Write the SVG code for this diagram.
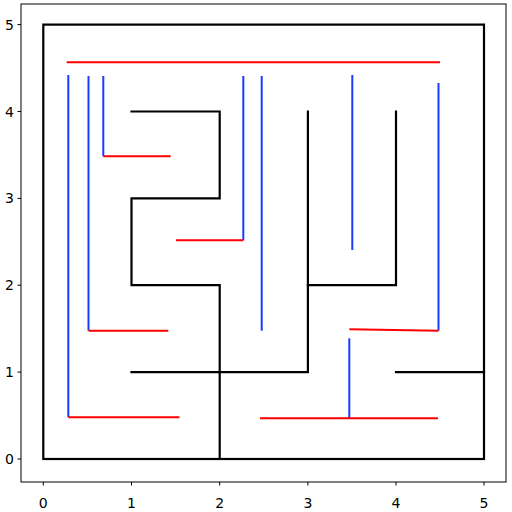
<svg xmlns="http://www.w3.org/2000/svg" width="512" height="512" viewBox="0 0 512 512">
<style>
.frame{fill:none;stroke:#000;stroke-width:1}
.tick{stroke:#000;stroke-width:1}
.lbl{font-family:"DejaVu Sans",sans-serif;font-size:14px;fill:#000}
.wall{fill:none;stroke:#000;stroke-width:2.2;stroke-linecap:square;stroke-linejoin:miter}
.b{fill:none;stroke:#1a3cff;stroke-width:2}
.r{fill:none;stroke:#ff0000;stroke-width:2}
</style>
<rect width="512" height="512" fill="#fff"/>
<g id="axes">
<rect class="frame" x="21" y="4" width="485" height="478"/>
<g class="tick">
<line x1="43.3" y1="482" x2="43.3" y2="485.5"/>
<line x1="131.5" y1="482" x2="131.5" y2="485.5"/>
<line x1="219.7" y1="482" x2="219.7" y2="485.5"/>
<line x1="307.9" y1="482" x2="307.9" y2="485.5"/>
<line x1="396" y1="482" x2="396" y2="485.5"/>
<line x1="484" y1="482" x2="484" y2="485.5"/>
<line x1="17.5" y1="459" x2="21" y2="459"/>
<line x1="17.5" y1="372.1" x2="21" y2="372.1"/>
<line x1="17.5" y1="285.2" x2="21" y2="285.2"/>
<line x1="17.5" y1="198.4" x2="21" y2="198.4"/>
<line x1="17.5" y1="111.5" x2="21" y2="111.5"/>
<line x1="17.5" y1="24.6" x2="21" y2="24.6"/>
</g>
<g class="lbl" text-anchor="middle">
<text x="43.3" y="508">0</text>
<text x="131.5" y="508">1</text>
<text x="219.7" y="508">2</text>
<text x="307.9" y="508">3</text>
<text x="396" y="508">4</text>
<text x="484" y="508">5</text>
</g>
<g class="lbl" text-anchor="end">
<text x="14" y="464">0</text>
<text x="14" y="377.1">1</text>
<text x="14" y="290.2">2</text>
<text x="14" y="203.4">3</text>
<text x="14" y="116.5">4</text>
<text x="14" y="29.6">5</text>
</g>
</g>
<g id="walls">
<rect class="wall" x="43.3" y="24.6" width="440.7" height="434.4"/>
<polyline class="wall" points="131.5,111.5 219.7,111.5 219.7,198.4 131.5,198.4 131.5,285.2 219.7,285.2 219.7,459"/>
<polyline class="wall" points="131.5,372.1 307.9,372.1 307.9,111.5"/>
<polyline class="wall" points="307.9,285.2 396,285.2 396,111.5"/>
<polyline class="wall" points="396,372.1 484,372.1"/>
</g>
<g id="connectors">
<line class="r" x1="66.7" y1="62.3" x2="440" y2="62.3"/>
<line class="b" x1="68.3" y1="75" x2="68.3" y2="417"/>
<line class="r" x1="68.3" y1="417.3" x2="179.5" y2="417.3"/>
<line class="b" x1="88.5" y1="76" x2="88.5" y2="330.7"/>
<line class="r" x1="88.5" y1="330.7" x2="168.3" y2="330.7"/>
<line class="b" x1="103.3" y1="76" x2="103.3" y2="156.3"/>
<line class="r" x1="103.3" y1="156.3" x2="170.7" y2="156.3"/>
<line class="b" x1="243.3" y1="76" x2="243.3" y2="240.3"/>
<line class="r" x1="176" y1="240.3" x2="243.3" y2="240.3"/>
<line class="b" x1="261.7" y1="76" x2="261.7" y2="330.7"/>
<line class="b" x1="352.3" y1="75" x2="352.3" y2="250"/>
<line class="b" x1="438.5" y1="83" x2="438.5" y2="330.7"/>
<line class="r" x1="349.3" y1="329.3" x2="438.5" y2="330.7"/>
<line class="b" x1="349.3" y1="338.3" x2="349.3" y2="418.3"/>
<line class="r" x1="260" y1="418.3" x2="438" y2="418.3"/>
</g>
</svg>
